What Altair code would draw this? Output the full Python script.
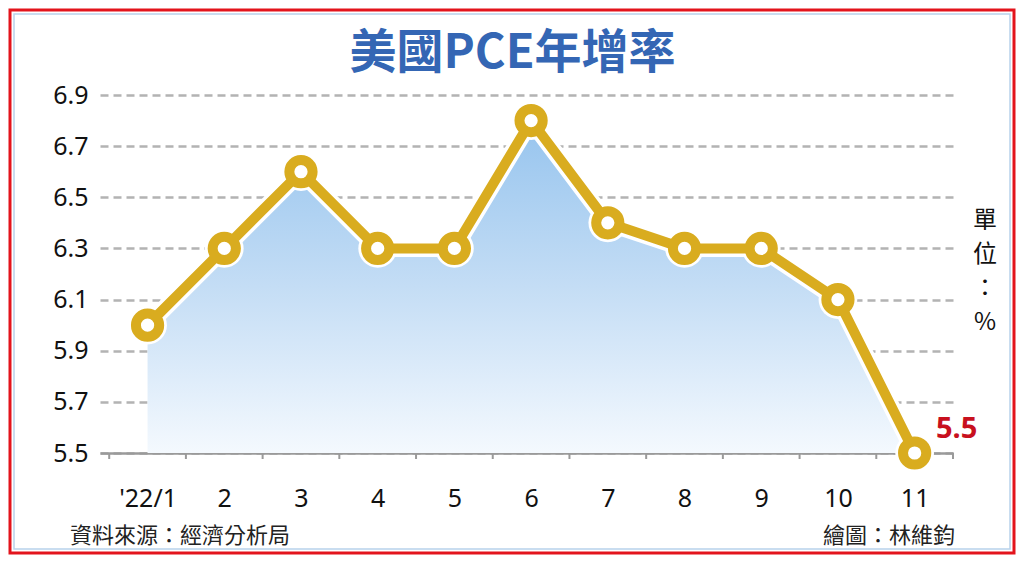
import json
import altair as alt
import pandas as pd

# ---- data ----
month_labels = ["'22/1", "2", "3", "4", "5", "6", "7", "8", "9", "10", "11"]
pce_values = [6.0, 6.3, 6.6, 6.3, 6.3, 6.8, 6.4, 6.3, 6.3, 6.1, 5.5]
y_ticks = [5.5, 5.7, 5.9, 6.1, 6.3, 6.5, 6.7, 6.9]

title_text = "美國PCE年增率"
source_text = "資料來源：經濟分析局"
credit_text = "繪圖：林維鈞"
unit_text = "單\n位\n：\n%"

df = pd.DataFrame({
    "idx": list(range(1, len(month_labels) + 1)),
    "label": month_labels,
    "value": pce_values,
})
last_df = df.tail(1)
tick_df = pd.DataFrame({"b": [i + 0.5 for i in range(len(month_labels) + 1)]})
one = pd.DataFrame({"a": [0]})

W, H = 853, 358
GOLD = "#D9AC1F"
FONT = "Noto Sans"
CJK = "Noto Sans CJK TC"
Y_MIN, Y_MAX = 5.5, 6.9

label_expr = f"{json.dumps(month_labels)}[round(datum.value) - 1]"

x_scale = alt.Scale(domain=[0.38, 11.5], nice=False, zero=False)
x_axis = alt.Axis(
    values=list(range(1, len(month_labels) + 1)),
    labelExpr=label_expr,
    title=None,
    grid=False,
    ticks=False,
    domainColor="#9a9a9a",
    domainWidth=2.5,
    labelFontSize=25,
    labelFont=FONT,
    labelColor="#111",
    labelPadding=33,
)
x_enc = alt.X("idx:Q", scale=x_scale, axis=x_axis)
y_enc = alt.Y(
    "value:Q",
    scale=alt.Scale(domain=[Y_MIN, Y_MAX], nice=False, zero=False),
    axis=alt.Axis(
        values=y_ticks,
        format=".1f",
        title=None,
        domain=False,
        ticks=False,
        grid=True,
        gridColor="#b3b3b3",
        gridDash=[8, 5],
        gridWidth=2.5,
        labelFontSize=25,
        labelFont=FONT,
        labelColor="#111",
        labelPadding=12,
    ),
)

base = alt.Chart(df).encode(x=x_enc, y=y_enc)

frame = alt.Chart(one).mark_rect(fill="transparent", stroke="#e3141c", strokeWidth=3).encode(
    x=alt.value(-90), x2=alt.value(W + 61), y=alt.value(-85), y2=alt.value(H + 100)
)
inner_frame = alt.Chart(one).mark_rect(fill="transparent", stroke="#b8d2ec", strokeWidth=1.5).encode(
    x=alt.value(-86), x2=alt.value(W + 57), y=alt.value(-81), y2=alt.value(H + 96)
)

title = alt.Chart(one).mark_text(
    text=title_text, font=CJK, fontSize=47, fontWeight="bold", color="#3466b4",
    align="center", baseline="alphabetic",
).encode(x=alt.value(W / 2 - 14), y=alt.value(-27))

area = base.mark_area(
    color=alt.Gradient(
        gradient="linear",
        stops=[
            alt.GradientStop(color="#96c4ee", offset=0),
            alt.GradientStop(color="#c4ddf5", offset=0.5),
            alt.GradientStop(color="#f4f9fe", offset=1),
        ],
        x1=1, x2=1, y1=0, y2=1,
    ),
    opacity=1,
).encode(y2=alt.datum(Y_MIN))

ticks = alt.Chart(tick_df).mark_rule(color="#9a9a9a", strokeWidth=2).encode(
    x=alt.X("b:Q", scale=x_scale, axis=x_axis),
    y=alt.value(H),
    y2=alt.value(H + 6),
)

halo_line = base.mark_line(color="white", strokeWidth=17, strokeJoin="round", strokeCap="round")
halo_pts = base.mark_point(filled=True, color="white", size=1500, opacity=1)
gold_line = base.mark_line(color=GOLD, strokeWidth=10, strokeJoin="round", strokeCap="round")
gold_pts = base.mark_point(
    filled=False, fill="white", fillOpacity=1, stroke=GOLD, strokeWidth=10, size=540, opacity=1
)

last_label = alt.Chart(last_df).mark_text(
    color="#c8101e", fontSize=29, fontWeight="bold", font=FONT, dx=42, dy=-24, align="center"
).encode(x=alt.X("idx:Q", scale=x_scale, axis=x_axis), y="value:Q",
         text=alt.Text("value:Q", format=".1f"))

source = alt.Chart(one).mark_text(
    text=source_text, font=CJK, fontSize=22, color="#222", align="left", baseline="alphabetic"
).encode(x=alt.value(-30), y=alt.value(H + 90))
credit = alt.Chart(one).mark_text(
    text=credit_text, font=CJK, fontSize=22, color="#222", align="right", baseline="alphabetic"
).encode(x=alt.value(W + 2), y=alt.value(H + 90))
unit = alt.Chart(one).mark_text(
    text=unit_text, lineBreak="\n", font=CJK, fontSize=24, lineHeight=34, color="#111",
    align="center", baseline="top"
).encode(x=alt.value(W + 32), y=alt.value(114))

chart = alt.layer(
    frame, inner_frame, title, area, ticks, halo_line, halo_pts, gold_line, gold_pts, last_label,
    source, credit, unit,
).properties(
    width=W,
    height=H,
    autosize=alt.AutoSizeParams(type="none"),
    padding={"left": 92, "top": 87, "right": 63, "bottom": 102},
).configure(background="white").configure_view(stroke=None)

chart.save("out.html", embed_options={"renderer": "svg", "actions": False})
